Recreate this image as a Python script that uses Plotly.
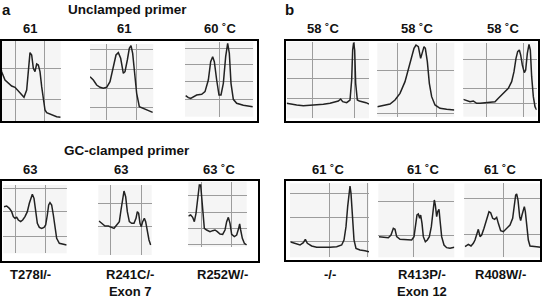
import plotly.graph_objects as go

# ---------------- data (melting-curve readings, arbitrary units) ----------------
# Panel a, unclamped primer
a1_x = [0,5,15,25,35,45,55,65,72,80,85,90,95,100,105,110,115,120,125,130,135,140,150,160,170,182]
a1_y = [175,150,125,115,107,103,93,80,73,95,165,207,200,160,150,173,170,150,105,65,35,27,23,20,15,13]
a2_x = [270,280,290,300,310,320,330,340,348,355,362,370,375,382,388,393,398,403,410,418,430,445,458]
a2_y = [130,120,105,98,95,98,115,160,195,202,185,140,145,180,215,223,200,150,80,40,35,30,23]
a3_x = [557,565,572,580,590,605,615,625,632,638,643,650,657,663,670,677,683,688,693,700,710,730,758]
a3_y = [63,57,55,60,65,67,75,110,165,180,165,110,65,65,100,180,220,190,100,52,40,34,30]
# Panel b, unclamped primer
b1_x = [50,60,80,100,120,140,160,180,195,205,212,218,230,240,245,248,251,254,257,262,268,278,288,297]
b1_y = [45,43,40,38,39,40,42,45,48,52,58,50,47,55,115,205,227,205,105,55,52,50,47,43]
b2_x = [322,340,360,375,390,405,415,425,432,438,445,452,458,462,466,472,478,485,495,510,530,553]
b2_y = [30,34,38,50,70,105,140,180,205,215,210,175,192,210,205,165,100,60,35,25,22,20]
b3_x = [580,590,600,610,620,630,645,660,675,685,695,705,715,725,732,738,743,748,752,757,763,767,772,777,781,785,790,795,800]
b3_y = [52,48,45,47,40,40,42,43,45,55,65,72,85,105,135,175,195,200,185,155,132,140,190,217,200,120,60,30,20]
# Panel a, GC-clamped primer
c1_x = [12,20,28,35,40,45,50,55,62,68,75,82,88,93,97,102,107,112,118,125,132,137,142,146,150,155,160,165,170,178,190,200]
c1_y = [140,142,135,125,110,105,108,100,95,100,110,125,150,170,177,165,120,90,78,75,78,85,115,145,152,145,115,75,45,30,27,25]
c2_x = [297,305,315,325,335,342,350,358,363,368,372,377,382,388,395,402,408,412,416,420,424,428,433,437,442,447,452]
c2_y = [102,95,87,87,83,80,90,100,135,175,192,175,130,100,95,95,110,130,125,95,85,100,110,100,70,45,30]
c3_x = [565,572,578,583,588,593,598,602,605,609,613,620,630,638,645,652,660,668,675,680,685,690,695,703,710,716,719,722,727,733,740]
c3_y = [92,95,88,75,100,140,185,185,150,90,55,50,45,48,50,45,38,37,50,75,88,70,37,30,35,55,68,50,25,10,5]
# Panel b, GC-clamped primer
d1_x = [62,75,90,100,106,112,125,140,160,180,200,215,222,228,233,237,240,243,247,252,258,270,285,297]
d1_y = [46,42,37,44,54,42,34,30,29,30,32,37,52,92,152,202,214,192,122,52,27,22,20,17]
d2_x = [327,340,355,363,370,375,380,390,410,425,432,437,441,445,449,452,456,460,466,472,478,484,489,493,496,500,503,507,510,515,522,530,540,553]
d2_y = [62,60,59,67,87,84,62,54,52,52,62,92,127,130,117,127,102,62,47,52,62,92,142,172,157,122,137,144,112,62,37,29,27,30]
d3_x = [585,595,603,610,615,620,625,630,635,642,650,657,662,668,674,680,685,692,700,710,720,728,733,737,740,744,749,752,756,760,763,766,770,775,780,790,800,812]
d3_y = [32,39,34,42,52,72,84,62,67,87,112,137,134,117,114,120,102,80,77,87,97,117,152,187,190,172,122,110,127,147,152,137,102,52,34,32,32,30]

top_titles_a = ["61", "61", "60 ˚C"]
top_titles_b = ["58 ˚C", "58 ˚C", "58 ˚C"]
bot_titles_a = ["63", "63", "63 ˚C"]
bot_titles_b = ["61 ˚C", "61 ˚C", "61 ˚C"]
labels_a = ["T278I/-", "R241C/-<br>Exon 7", "R252W/-"]
labels_b = ["-/-", "R413P/-<br>Exon 12", "R408W/-"]

# ---------------- layout spec (positions in pixels) ----------------
W, H = 543, 300
# (x, y, xrange, ylen, offset, gridx, gridy)
panels = [
    (a1_x, a1_y, (0, 182), (122, 365), (0, 0), [45, 133], [160, 65]),
    (a2_x, a2_y, (270, 460), (132, 360), (0, 0), [320, 410], [212, 153, 95, 38]),
    (a3_x, a3_y, (555, 760), (125, 350), (0, 0), [657], [205, 155, 105, 52]),
    (b1_x, b1_y, (50, 297), (125, 355), (270, 0), [127, 255], [177, 120, 60, 3]),
    (b2_x, b2_y, (322, 553), (128, 350), (270, 0), [383, 498], [137, 8]),
    (b3_x, b3_y, (580, 800), (128, 350), (270, 0), [650, 760], [172, 85, 40]),
    (c1_x, c1_y, (10, 200), (135, 340), (0, 140), [45, 135], [195, 125, 52]),
    (c2_x, c2_y, (295, 455), (135, 345), (0, 140), [330, 425], [155, 87]),
    (c3_x, c3_y, (565, 740), (125, 320), (0, 140), [603, 693], [152, 102, 55, 7]),
    (d1_x, d1_y, (60, 297), (130, 352), (270, 140), [178, 292], [192, 120, 49]),
    (d2_x, d2_y, (325, 553), (130, 352), (270, 140), [430], [169, 65]),
    (d3_x, d3_y, (583, 812), (130, 352), (270, 140), [700], [177, 69]),
]

fig = go.Figure()
layout = {}
for i, (xs, ys, xr, yr, off, gx, gy) in enumerate(panels, start=1):
    px0 = off[0] + xr[0] / 3
    px1 = off[0] + xr[1] / 3
    py0 = off[1] + yr[0] / 3
    py1 = off[1] + yr[1] / 3
    xa = "x" if i == 1 else f"x{i}"
    ya = "y" if i == 1 else f"y{i}"
    fig.add_trace(go.Scatter(x=xs, y=ys, mode="lines", xaxis=xa, yaxis=ya,
                             line=dict(color="#222222", width=1.5), hoverinfo="skip",
                             showlegend=False))
    common = dict(showticklabels=False, ticks="", zeroline=False, showline=False,
                  showgrid=True, gridcolor="#9c9c9c", gridwidth=1, fixedrange=True)
    layout["xaxis" if i == 1 else f"xaxis{i}"] = dict(
        domain=[px0 / W, px1 / W], range=list(xr), tickvals=gx,
        anchor=ya, **common)
    layout["yaxis" if i == 1 else f"yaxis{i}"] = dict(
        domain=[1 - py1 / H, 1 - py0 / H], range=[0, yr[1] - yr[0]], tickvals=gy,
        anchor=xa, **common)

fig.update_layout(**layout)

shapes = []
for (x0, y0, x1, y1) in [(1, 40, 258, 122), (285, 40, 539, 122), (1, 180, 259, 262), (285, 180, 541, 261)]:
    shapes.append(dict(type="rect", xref="paper", yref="paper",
                       x0=x0 / W, x1=x1 / W, y0=1 - y1 / H, y1=1 - y0 / H,
                       line=dict(color="black", width=2), fillcolor="rgba(0,0,0,0)"))

FONT = "Liberation Sans, Arial, sans-serif"
ann = []
def txt(s, x, y, size=13):
    ann.append(dict(text=f"<b>{s}</b>", x=x / W, y=1 - y / H, xref="paper", yref="paper",
                    showarrow=False, xanchor="center", yanchor="middle",
                    font=dict(family=FONT, size=size, color="#111")))

txt("a", 6, 10, 15)
txt("b", 289, 10, 15)
txt("Unclamped primer", 127, 9, 13.5)
txt("GC-clamped primer", 127, 150, 13.5)
for s, x in zip(top_titles_a, [30, 124, 220]):
    txt(s, x, 28)
for s, x in zip(top_titles_b, [323, 417, 503]):
    txt(s, x, 28)
for s, x in zip(bot_titles_a, [30, 121, 219]):
    txt(s, x, 169)
for s, x in zip(bot_titles_b, [328, 423, 500]):
    txt(s, x, 169)
for s, x in zip(labels_a, [30, 130, 222]):
    ann.append(dict(text=f"<b>{s}</b>", x=x / W, y=1 - 265 / H, xref="paper", yref="paper",
                    showarrow=False, xanchor="center", yanchor="top", align="center",
                    font=dict(family=FONT, size=13, color="#111")))
for s, x in zip(labels_b, [330, 422, 500]):
    ann.append(dict(text=f"<b>{s}</b>", x=x / W, y=1 - 265 / H, xref="paper", yref="paper",
                    showarrow=False, xanchor="center", yanchor="top", align="center",
                    font=dict(family=FONT, size=13, color="#111")))

fig.update_layout(width=W, height=H, margin=dict(l=0, r=0, t=0, b=0),
                  paper_bgcolor="white", plot_bgcolor="#f5f5f5",
                  shapes=shapes, annotations=ann)
fig.write_html("out.html", config={"displayModeBar": False},
               post_script="document.body.style.margin='0px';document.body.style.overflow='hidden';")
